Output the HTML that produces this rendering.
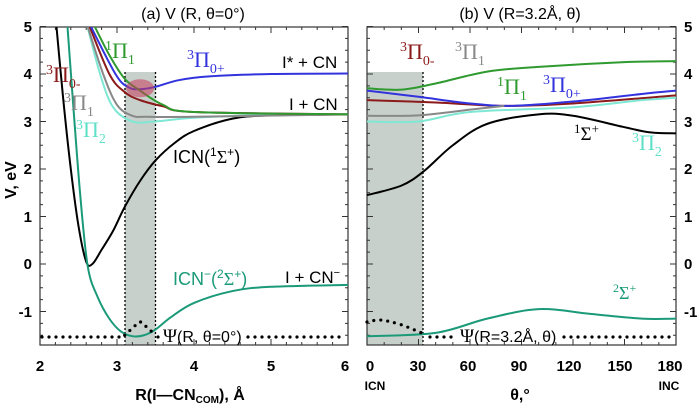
<!DOCTYPE html>
<html><head><meta charset="utf-8"><style>
body{margin:0;background:#fff;width:700px;height:405px;overflow:hidden}
svg{font-family:"Liberation Sans",sans-serif}
.t{font-size:16px}
.b{font-weight:bold;font-size:15px}
.p{font-family:"Liberation Serif",serif;font-size:22px}
</style></head><body>
<svg id="s" width="700" height="405" viewBox="0 0 700 405">
<g id="g"></g>
<text x="193" y="19" text-anchor="middle" class="t">(a) V (R, θ=0°)</text>
<text x="520" y="19" text-anchor="middle" class="t">(b) V (R=3.2Å, θ)</text>
<g class="b" text-anchor="end">
<text x="32" y="32">5</text><text x="32" y="79">4</text><text x="32" y="127">3</text><text x="32" y="174">2</text><text x="32" y="222">1</text><text x="32" y="269">0</text><text x="32" y="317">-1</text>
</g>
<g class="b" text-anchor="start">
<text x="684" y="32">5</text><text x="684" y="79">4</text><text x="684" y="127">3</text><text x="684" y="174">2</text><text x="684" y="222">1</text><text x="684" y="269">0</text><text x="684" y="317">-1</text>
</g>
<text transform="translate(16,180) rotate(-90)" text-anchor="middle" class="b" style="font-size:16px">V, eV</text>
<g class="b" text-anchor="middle">
<text x="40" y="371">2</text><text x="117" y="371">3</text><text x="194" y="371">4</text><text x="271" y="371">5</text><text x="345" y="371">6</text>
<text x="370" y="371">0</text><text x="418" y="371">30</text><text x="468" y="371">60</text><text x="519" y="371">90</text><text x="569" y="371">120</text><text x="620" y="371">150</text><text x="670" y="371">180</text>
<text x="375" y="390" style="font-size:12px">ICN</text><text x="669" y="390" style="font-size:12px">INC</text>
<text x="190" y="400" style="font-size:16px">R(I—CN<tspan style="font-size:10px" dy="3">COM</tspan><tspan dy="-3">), Å</tspan></text>
<text x="520" y="400" style="font-size:16px">θ,°</text>
</g>
<g class="p">
<text x="105" y="58" fill="#2f9a2f"><tspan font-size="14" dy="-8">1</tspan><tspan dy="8">Π</tspan><tspan font-size="14" dy="6">1</tspan></text>
<text x="187" y="67" fill="#3333dd"><tspan font-size="14" dy="-8">3</tspan><tspan dy="8">Π</tspan><tspan font-size="14" dy="6">0+</tspan></text>
<text x="46" y="82" fill="#8b1a1a"><tspan font-size="14" dy="-8">3</tspan><tspan dy="8">Π</tspan><tspan font-size="14" dy="6">0-</tspan></text>
<text x="64" y="110" fill="#888"><tspan font-size="14" dy="-8">3</tspan><tspan dy="8">Π</tspan><tspan font-size="14" dy="6">1</tspan></text>
<text x="76" y="137" fill="#5ee0c8"><tspan font-size="14" dy="-8">3</tspan><tspan dy="8">Π</tspan><tspan font-size="14" dy="6">2</tspan></text>
<text x="400" y="59" fill="#8b1a1a"><tspan font-size="14" dy="-8">3</tspan><tspan dy="8">Π</tspan><tspan font-size="14" dy="6">0-</tspan></text>
<text x="455" y="59" fill="#888"><tspan font-size="14" dy="-8">3</tspan><tspan dy="8">Π</tspan><tspan font-size="14" dy="6">1</tspan></text>
<text x="497" y="94" fill="#2f9a2f"><tspan font-size="14" dy="-8">1</tspan><tspan dy="8">Π</tspan><tspan font-size="14" dy="6">1</tspan></text>
<text x="543" y="92" fill="#3333dd"><tspan font-size="14" dy="-8">3</tspan><tspan dy="8">Π</tspan><tspan font-size="14" dy="6">0+</tspan></text>
<text x="632" y="150" fill="#5ee0c8"><tspan font-size="14" dy="-8">3</tspan><tspan dy="8">Π</tspan><tspan font-size="14" dy="6">2</tspan></text>
<text x="574" y="140" fill="#000" font-size="19"><tspan font-size="13" dy="-7">1</tspan><tspan dy="7">Σ</tspan><tspan font-size="13" dy="-7">+</tspan></text>
<text x="613" y="299" fill="#1a9a78" font-size="18"><tspan font-size="12" dy="-7">2</tspan><tspan dy="7">Σ</tspan><tspan font-size="12" dy="-7">+</tspan></text>
<text x="163" y="342" font-size="19">Ψ<tspan font-family="Liberation Sans" font-size="16">(R, θ=0°)</tspan></text>
<text x="460" y="342" font-size="19">Ψ<tspan font-family="Liberation Sans" font-size="16">(R=3.2Å, θ)</tspan></text>
</g>
<g style="font-size:17px">
<text x="282" y="68">I* + CN</text>
<text x="289" y="110">I + CN</text>
<text x="173" y="163" style="font-size:18px">ICN(<tspan font-size="12" dy="-7">1</tspan><tspan dy="7" font-family="Liberation Serif">Σ</tspan><tspan font-size="12" dy="-7">+</tspan><tspan dy="7">)</tspan></text>
<text x="173" y="285" fill="#1a9a78" style="font-size:18px">ICN<tspan font-size="12" dy="-7">−</tspan><tspan dy="7">(</tspan><tspan font-size="12" dy="-7">2</tspan><tspan dy="7" font-family="Liberation Serif">Σ</tspan><tspan font-size="12" dy="-7">+</tspan><tspan dy="7">)</tspan></text>
<text x="285" y="283">I + CN<tspan font-size="11" dy="-7">−</tspan></text>
</g>
</svg>
<script>
const NS="http://www.w3.org/2000/svg",g=document.getElementById('g');
const yv=v=>264-47.5*v, xl=r=>40+77*(r-2), xr=t=>367+(309/180)*t;
function el(n,a){const e=document.createElementNS(NS,n);for(const k in a)e.setAttribute(k,a[k]);g.appendChild(e);return e}
function path(pts){let d=`M${pts[0][0]},${pts[0][1]}`;for(let i=0;i<pts.length-1;i++){const p0=pts[i-1]||pts[i],p1=pts[i],p2=pts[i+1],p3=pts[i+2]||p2;
d+=` C${p1[0]+(p2[0]-p0[0])/6},${p1[1]+(p2[1]-p0[1])/6} ${p2[0]-(p3[0]-p1[0])/6},${p2[1]-(p3[1]-p1[1])/6} ${p2[0]},${p2[1]}`}return d}
function curve(pts,fx,c,w,extra){return el('path',Object.assign({d:path(pts.map(p=>[fx(p[0]),yv(p[1])])),fill:'none',stroke:c,'stroke-width':w||2},extra||{}))}
el('rect',{x:125,y:72,width:30.5,height:273,fill:'#c8d0cc'});
el('rect',{x:367,y:72,width:56,height:273,fill:'#c8d0cc'});
[125,155.5,423].forEach(x=>el('line',{x1:x,y1:72,x2:x,y2:345,stroke:'#000','stroke-width':1.3,'stroke-dasharray':'2,2'}));
el('rect',{x:40,y:27,width:308,height:318,fill:'none',stroke:'#333','stroke-width':1.2});
el('rect',{x:367,y:27,width:309,height:318,fill:'none',stroke:'#333','stroke-width':1.2});
for(let r=2;r<=6.001;r+=0.2){const x=xl(r),L=(Math.abs(r-Math.round(r))<.01)?6:3;el('line',{x1:x,y1:345,x2:x,y2:345-L,stroke:'#333'});el('line',{x1:x,y1:27,x2:x,y2:27+L,stroke:'#333'})}
for(let t=0;t<=180;t+=10){const x=xr(t),L=t%30==0?6:3;el('line',{x1:x,y1:345,x2:x,y2:345-L,stroke:'#333'});el('line',{x1:x,y1:27,x2:x,y2:27+L,stroke:'#333'})}
for(let v=-1.5;v<=5;v+=0.25){const y=yv(v),L=(v%1==0)?6:3;[[40,1],[348,-1],[367,1],[676,-1]].forEach(([x,s])=>el('line',{x1:x,y1:y,x2:x+s*L,y2:y,stroke:'#333'}))}
const clipL=el('clipPath',{id:'cl'});const rL=document.createElementNS(NS,'rect');rL.setAttribute('x',40);rL.setAttribute('y',27);rL.setAttribute('width',308);rL.setAttribute('height',318);clipL.appendChild(rL);
const o={'clip-path':'url(#cl)'};
curve([[2.18,5.6],[2.3,3.5],[2.4,2.0],[2.5,0.8],[2.6,0.05],[2.68,0.0],[2.8,0.3],[2.95,0.7],[3.1,1.2],[3.3,1.75],[3.5,2.18],[3.75,2.55],[4,2.8],[4.5,3.06],[5,3.13],[6,3.15]],xl,'#000',2,o);
curve([[2.33,5.6],[2.42,3.6],[2.52,1.5],[2.62,-0.05],[2.75,-0.7],[2.9,-1.15],[3.05,-1.42],[3.2,-1.52],[3.35,-1.5],[3.5,-1.38],[3.7,-1.12],[4,-0.82],[4.5,-0.57],[5,-0.48],[6,-0.44]],xl,'#1a9a78',2,o);
curve([[2.6,5.1],[2.78,4.0],[2.95,3.3],[3.2,3.0],[3.5,3.0],[4,3.08],[5,3.14],[6,3.15]],xl,'#7ee8d4',2,o);
curve([[2.6,5.1],[2.82,4.0],[3.0,3.35],[3.2,3.12],[3.4,3.1],[4,3.1],[6,3.15]],xl,'#888',2,o);
curve([[2.62,5.1],[2.9,4.0],[3.1,3.62],[3.3,3.45],[3.6,3.32],[4,3.2],[6,3.15]],xl,'#8b1a1a',2,o);
curve([[2.63,5.1],[2.98,4.0],[3.15,3.72],[3.3,3.68],[3.5,3.73],[3.8,3.87],[4.2,3.95],[5,4.0],[6,4.01]],xl,'#3333dd',2,o);
curve([[2.68,5.1],[2.9,4.4],[3.1,3.9],[3.3,3.65],[3.6,3.35],[4,3.2],[6,3.15]],xl,'#2f9a2f',2,o);
el('ellipse',{cx:xl(3.3),cy:yv(3.7),rx:14,ry:9,fill:'rgba(200,60,90,0.55)'});
curve([[0,3.7],[20,3.67],[40,3.8],[70,4.05],[100,4.15],[150,4.25],[180,4.27]],xr,'#2f9a2f');
curve([[0,3.45],[40,3.4],[80,3.33],[120,3.38],[180,3.55]],xr,'#8b1a1a');
curve([[0,3.65],[30,3.52],[60,3.38],[85,3.33],[120,3.42],[160,3.58],[180,3.65]],xr,'#3333dd');
curve([[0,3.12],[30,3.13],[60,3.25],[80,3.33]],xr,'#888');
curve([[0,3.0],[30,3.0],[60,3.2],[120,3.3],[160,3.45],[180,3.5]],xr,'#7ee8d4');
curve([[0,1.45],[20,1.65],[33,1.95],[50,2.5],[70,2.95],[100,3.15],[120,3.12],[150,2.88],[165,2.77],[180,2.75]],xr,'#000');
curve([[0,-1.52],[40,-1.45],[70,-1.15],[100,-0.95],[130,-1.05],[160,-1.15],[180,-1.15]],xr,'#1a9a78');
const dot={fill:'none',stroke:'#000','stroke-width':3.2,'stroke-linecap':'round','stroke-dasharray':'0,7'};
el('line',Object.assign({x1:42,y1:337,x2:124,y2:337},dot));
el('line',Object.assign({x1:158,y1:337,x2:162,y2:337},dot));
el('line',Object.assign({x1:248,y1:337,x2:346,y2:337},dot));
curve([[3.1,-1.5],[3.22,-1.32],[3.3,-1.22],[3.38,-1.32],[3.5,-1.5]],xl,'#000',3.2,{'stroke-linecap':'round','stroke-dasharray':'0,7'});
curve([[0,-1.22],[8,-1.18],[20,-1.28],[35,-1.5]],xr,'#000',3.2,{'stroke-linecap':'round','stroke-dasharray':'0,7'});
el('line',Object.assign({x1:430,y1:337,x2:458,y2:337},dot));
el('line',Object.assign({x1:564,y1:337,x2:674,y2:337},dot));
</script>
</body></html>
